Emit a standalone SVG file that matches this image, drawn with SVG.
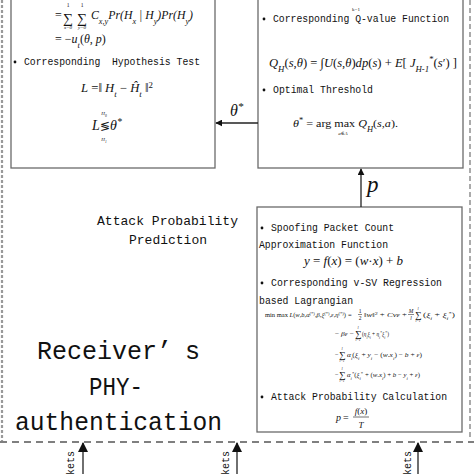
<svg xmlns="http://www.w3.org/2000/svg" width="474" height="474" viewBox="0 0 474 474">
<defs>
<style>
.box{fill:#fff;stroke:#6a6a6a;stroke-width:1.3}
.mono{font-family:"Liberation Mono","DejaVu Sans Mono",monospace;fill:#111}
.m{font-family:"Liberation Serif","DejaVu Serif",serif;fill:#111}
.i{font-style:italic}
.sb{baseline-shift:sub;font-size:70%}
.sp{baseline-shift:super;font-size:70%}
.conn{stroke:#222;stroke-width:1.3;fill:none}
.bul{fill:#111}
</style>
<marker id="ah" viewBox="0 0 10 10" refX="9" refY="5" markerWidth="7" markerHeight="7" orient="auto" markerUnits="userSpaceOnUse">
<path d="M0,0 L10,5 L0,10 z" fill="#111"/>
</marker>
<marker id="ahb" viewBox="0 0 10 10" refX="9" refY="5" markerWidth="10" markerHeight="10" orient="auto" markerUnits="userSpaceOnUse">
<path d="M0,0 L10,5 L0,10 z" fill="#111"/>
</marker>
</defs>
<rect width="474" height="474" fill="#fff"/>

<g id="frame">
<line x1="2" y1="0" x2="2" y2="441" stroke="#999" stroke-width="2.2" stroke-dasharray="3 2"/>
<line x1="470" y1="0" x2="470" y2="438" stroke="#aaa" stroke-width="2" stroke-dasharray="5 3"/>
<line x1="0" y1="442" x2="474" y2="442" stroke="#555" stroke-width="1.3" stroke-dasharray="7 5"/>
</g>

<g id="node-hypothesis">
<rect class="box" x="11" y="-20" width="204" height="188"/>
<text class="m" x="55" y="19" font-size="12">=</text>
<text class="m" x="63" y="23" font-size="14">∑</text>
<text class="m" x="68" y="7" font-size="5.5" text-anchor="middle">1</text>
<text class="m i" x="68" y="29" font-size="5" text-anchor="middle">x=0</text>
<text class="m" x="77" y="23" font-size="14">∑</text>
<text class="m" x="82" y="7" font-size="5.5" text-anchor="middle">1</text>
<text class="m i" x="82" y="29" font-size="5" text-anchor="middle">y=0</text>
<text class="m i" x="91" y="19" font-size="12" textLength="102" lengthAdjust="spacingAndGlyphs">C<tspan class="sb">x,y</tspan>Pr(H<tspan class="sb">x</tspan> | H<tspan class="sb">y</tspan>)Pr(H<tspan class="sb">y</tspan>)</text>
<text class="m" x="55" y="43" font-size="12">= −<tspan class="i">u<tspan class="sb">t</tspan></tspan>(<tspan class="i">θ</tspan>, <tspan class="i">p</tspan>)</text>
<circle class="bul" cx="15" cy="62" r="1.4"/>
<text class="mono" x="24" y="65" font-size="10" xml:space="preserve" textLength="176" lengthAdjust="spacingAndGlyphs">Corresponding  Hypothesis Test</text>
<text class="m" x="81" y="92" font-size="12" textLength="72" lengthAdjust="spacingAndGlyphs"><tspan class="i">L</tspan> =‖ <tspan class="i">H<tspan class="sb">t</tspan></tspan> − <tspan class="i">Ĥ<tspan class="sb">t</tspan></tspan> ‖<tspan class="sp">2</tspan></text>
<text class="m i" x="92" y="130" font-size="14">L</text>
<text class="m" x="100" y="130" font-size="12">≶</text>
<text class="m i" x="110" y="130" font-size="14">θ<tspan class="sp">*</tspan></text>
<text class="m i" x="104" y="115" font-size="5" text-anchor="middle">H<tspan class="sb">0</tspan></text>
<text class="m i" x="104" y="141" font-size="5" text-anchor="middle">H<tspan class="sb">1</tspan></text>
</g>

<g id="node-qvalue">
<rect class="box" x="258" y="-20" width="205" height="188"/>
<text class="m" x="356" y="11" font-size="5" text-anchor="middle">k=1</text>
<circle class="bul" cx="264" cy="19" r="1.4"/>
<text class="mono" x="273" y="22" font-size="10" textLength="176" lengthAdjust="spacingAndGlyphs">Corresponding Q-value Function</text>
<text class="m" x="269" y="67" font-size="13" textLength="188" lengthAdjust="spacingAndGlyphs"><tspan class="i">Q<tspan class="sb">H</tspan></tspan>(<tspan class="i">s</tspan>,<tspan class="i">θ</tspan>) = ∫<tspan class="i">U</tspan>(<tspan class="i">s</tspan>,<tspan class="i">θ</tspan>)<tspan class="i">dp</tspan>(<tspan class="i">s</tspan>) + <tspan class="i">E</tspan>[ <tspan class="i">J<tspan class="sb">H-1</tspan></tspan><tspan class="sp">*</tspan>(<tspan class="i">s</tspan>′) ]</text>
<circle class="bul" cx="264" cy="90" r="1.4"/>
<text class="mono" x="273" y="93" font-size="10" textLength="100" lengthAdjust="spacingAndGlyphs">Optimal Threshold</text>
<text class="m" x="293" y="127" font-size="11" textLength="105" lengthAdjust="spacingAndGlyphs"><tspan class="i">θ</tspan><tspan class="sp">*</tspan> = arg max <tspan class="i">Q<tspan class="sb">H</tspan></tspan>(<tspan class="i">s</tspan>,<tspan class="i">a</tspan>).</text>
<text class="m i" x="343" y="135" font-size="5" text-anchor="middle">a∈A</text>
</g>

<g id="node-svr">
<rect class="box" x="257" y="207" width="205" height="225"/>
<circle class="bul" cx="262" cy="228" r="1.4"/>
<text class="mono" x="271" y="231" font-size="10" textLength="123" lengthAdjust="spacingAndGlyphs">Spoofing Packet Count</text>
<text class="mono" x="259" y="248" font-size="10" textLength="129" lengthAdjust="spacingAndGlyphs">Approximation Function</text>
<text class="m" x="304" y="265" font-size="12" textLength="99" lengthAdjust="spacingAndGlyphs"><tspan class="i">y</tspan> = <tspan class="i">f</tspan>(<tspan class="i">x</tspan>) = (<tspan class="i">w</tspan>·<tspan class="i">x</tspan>) + <tspan class="i">b</tspan></text>
<circle class="bul" cx="262" cy="283" r="1.4"/>
<text class="mono" x="271" y="286" font-size="10" textLength="171" lengthAdjust="spacingAndGlyphs">Corresponding v-SV Regression</text>
<text class="mono" x="259" y="304" font-size="10" textLength="94" lengthAdjust="spacingAndGlyphs">based Lagrangian</text>
<text class="m" x="265" y="317" font-size="6.5" textLength="81" lengthAdjust="spacingAndGlyphs">min max <tspan class="i">L</tspan>(<tspan class="i">w</tspan>,<tspan class="i">b</tspan>,<tspan class="i">α</tspan><tspan class="sp">(*)</tspan>,<tspan class="i">β</tspan>,<tspan class="i">ξ</tspan><tspan class="sp">(*)</tspan>,<tspan class="i">ε</tspan>,<tspan class="i">η</tspan><tspan class="sp">(*)</tspan>)</text>
<text class="m" x="348" y="317" font-size="6.5">=</text>
<text class="m" x="360" y="313" font-size="5.5" text-anchor="middle">1</text>
<line x1="358" y1="314.5" x2="362" y2="314.5" stroke="#111" stroke-width="0.5"/>
<text class="m" x="360" y="320" font-size="5.5" text-anchor="middle">2</text>
<text class="m" x="364" y="317" font-size="6.5" textLength="43" lengthAdjust="spacingAndGlyphs">‖<tspan class="i">w</tspan>‖<tspan class="sp">2</tspan> + <tspan class="i">Cνε</tspan> +</text>
<text class="m i" x="411" y="313" font-size="5.5" text-anchor="middle">M</text>
<line x1="408" y1="314.5" x2="414" y2="314.5" stroke="#111" stroke-width="0.5"/>
<text class="m i" x="411" y="320" font-size="5.5" text-anchor="middle">l</text>
<text class="m" x="415" y="318" font-size="9">∑</text>
<text class="m i" x="418" y="310" font-size="4" text-anchor="middle">l</text>
<text class="m i" x="418" y="322" font-size="3.5" text-anchor="middle">i=1</text>
<text class="m" x="423" y="317" font-size="6.5" textLength="32" lengthAdjust="spacingAndGlyphs">(<tspan class="i">ξ<tspan class="sb">i</tspan></tspan> + <tspan class="i">ξ<tspan class="sb">i</tspan></tspan><tspan class="sp">*</tspan>)</text>

<text class="m" x="335" y="336" font-size="6.5" textLength="19" lengthAdjust="spacingAndGlyphs">− <tspan class="i">βε</tspan> −</text>
<text class="m" x="355" y="337" font-size="9">∑</text>
<text class="m i" x="358" y="329" font-size="4" text-anchor="middle">l</text>
<text class="m i" x="358" y="341" font-size="3.5" text-anchor="middle">i=1</text>
<text class="m" x="362" y="336" font-size="6.5" textLength="27" lengthAdjust="spacingAndGlyphs">(<tspan class="i">η<tspan class="sb">i</tspan>ξ<tspan class="sb">i</tspan></tspan> + <tspan class="i">η<tspan class="sb">i</tspan></tspan><tspan class="sp">*</tspan><tspan class="i">ξ<tspan class="sb">i</tspan></tspan><tspan class="sp">*</tspan>)</text>

<text class="m" x="335" y="357" font-size="6.5">−</text>
<text class="m" x="339" y="358" font-size="9">∑</text>
<text class="m i" x="342" y="350" font-size="4" text-anchor="middle">l</text>
<text class="m i" x="342" y="362" font-size="3.5" text-anchor="middle">i=1</text>
<text class="m" x="347" y="357" font-size="6.5" textLength="75" lengthAdjust="spacingAndGlyphs"><tspan class="i">α<tspan class="sb">i</tspan></tspan>(<tspan class="i">ξ<tspan class="sb">i</tspan></tspan> + <tspan class="i">y<tspan class="sb">i</tspan></tspan> − (<tspan class="i">w</tspan>.<tspan class="i">x<tspan class="sb">i</tspan></tspan>) − <tspan class="i">b</tspan> + <tspan class="i">ε</tspan>)</text>

<text class="m" x="335" y="377" font-size="6.5">−</text>
<text class="m" x="339" y="378" font-size="9">∑</text>
<text class="m i" x="342" y="370" font-size="4" text-anchor="middle">l</text>
<text class="m i" x="342" y="382" font-size="3.5" text-anchor="middle">i=1</text>
<text class="m" x="347" y="377" font-size="6.5" textLength="73" lengthAdjust="spacingAndGlyphs"><tspan class="i">α<tspan class="sb">i</tspan></tspan><tspan class="sp">*</tspan>(<tspan class="i">ξ<tspan class="sb">i</tspan></tspan><tspan class="sp">*</tspan> + (<tspan class="i">w</tspan>.<tspan class="i">x<tspan class="sb">i</tspan></tspan>) + <tspan class="i">b</tspan> − <tspan class="i">y<tspan class="sb">i</tspan></tspan> + <tspan class="i">ε</tspan>)</text>

<circle class="bul" cx="262" cy="397" r="1.4"/>
<text class="mono" x="271" y="400" font-size="10" textLength="176" lengthAdjust="spacingAndGlyphs">Attack Probability Calculation</text>
<text class="m i" x="336" y="421" font-size="10">p</text>
<text class="m" x="343" y="421" font-size="10">=</text>
<text class="m" x="361" y="414" font-size="9" text-anchor="middle"><tspan class="i">f</tspan>(<tspan class="i">x</tspan>)</text>
<line x1="353" y1="417" x2="369" y2="417" stroke="#111" stroke-width="0.6"/>
<text class="m i" x="361" y="428" font-size="9" text-anchor="middle">T</text>
</g>

<g id="node-attack-label">
<text class="mono" x="167.5" y="225" font-size="13" text-anchor="middle" textLength="141" lengthAdjust="spacingAndGlyphs">Attack Probability</text>
<text class="mono" x="168" y="244" font-size="13" text-anchor="middle">Prediction</text>
</g>

<g id="node-receiver-label">
<text class="mono" x="37" y="359" font-size="25">Receiver’<tspan x="185">s</tspan></text>
<text class="mono" x="89" y="395" font-size="25" textLength="54" lengthAdjust="spacingAndGlyphs">PHY-</text>
<text class="mono" x="15" y="430" font-size="25" textLength="207" lengthAdjust="spacingAndGlyphs">authentication</text>
</g>

<g id="connectors">
<line class="conn" x1="258" y1="123" x2="216" y2="123" marker-end="url(#ah)"/>
<text class="m i" x="230" y="116" font-size="16">θ<tspan class="sp">*</tspan></text>
<line class="conn" x1="361" y1="207" x2="361" y2="169" marker-end="url(#ah)"/>
<text class="m i" x="367" y="192" font-size="23">p</text>
<line class="conn" x1="83" y1="474" x2="83" y2="443" marker-end="url(#ahb)"/>
<line class="conn" x1="237" y1="474" x2="237" y2="443" marker-end="url(#ahb)"/>
<line class="conn" x1="418" y1="474" x2="418" y2="443" marker-end="url(#ahb)"/>
<text class="mono" transform="translate(74,451) rotate(-90)" font-size="10" text-anchor="end">kets</text>
<text class="mono" transform="translate(229,451) rotate(-90)" font-size="10" text-anchor="end">kets</text>
<text class="mono" transform="translate(411,451) rotate(-90)" font-size="10" text-anchor="end">kets</text>
</g>
</svg>
